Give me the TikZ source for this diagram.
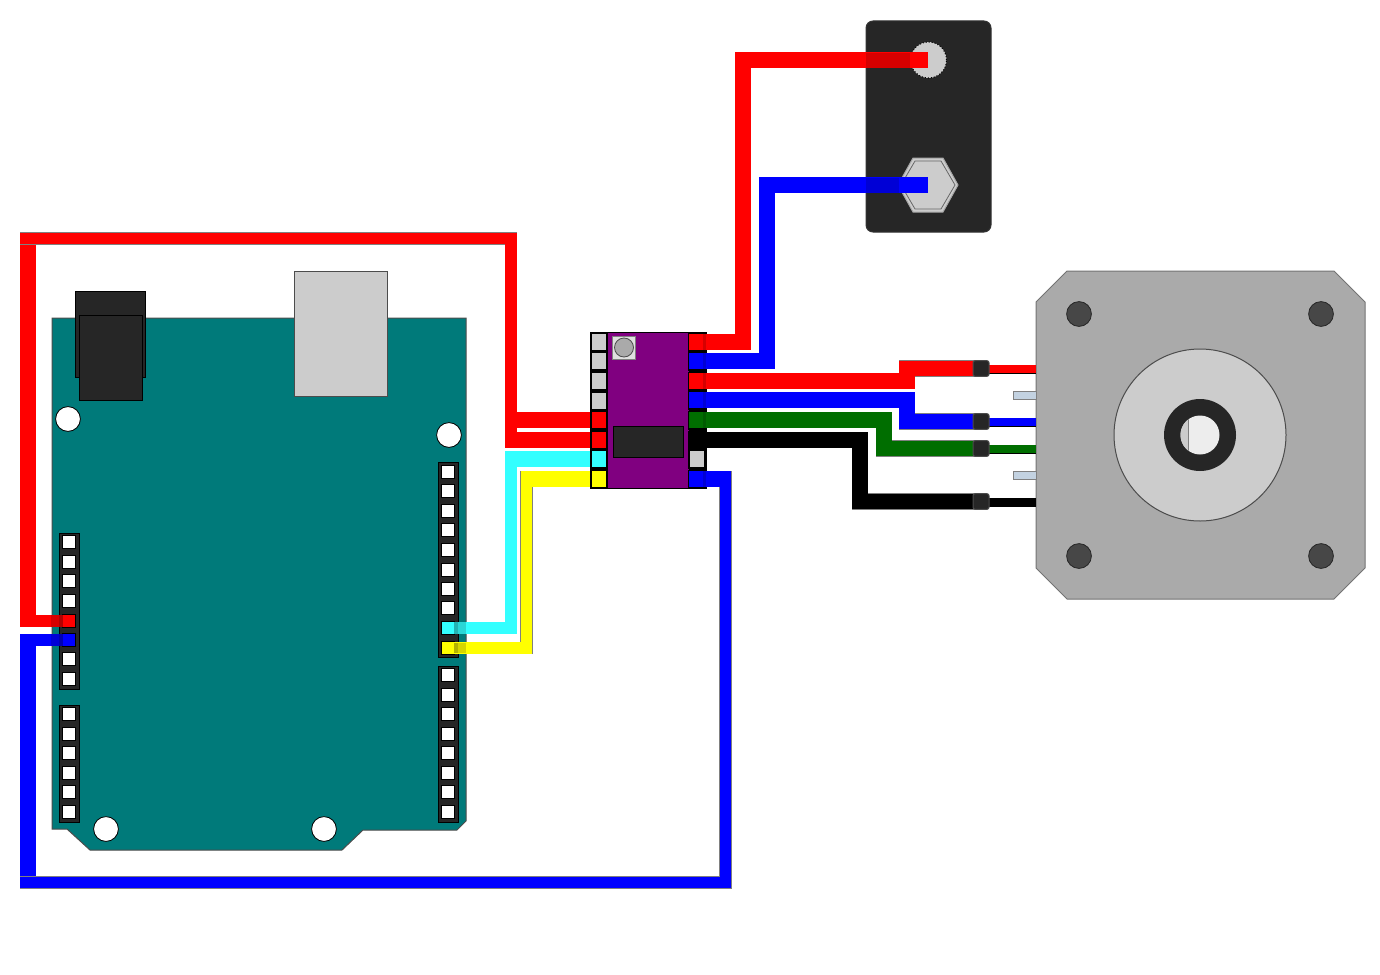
\documentclass[tikz,border=0pt]{standalone}
\usepackage{tikz}
\definecolor{boardteal}{RGB}{0,122,122}
\definecolor{darkpart}{RGB}{38,38,38}
\definecolor{lightpart}{RGB}{204,204,204}
\definecolor{motorgray}{RGB}{170,170,170}
\definecolor{drvpurple}{RGB}{128,0,128}
\definecolor{wirered}{RGB}{255,0,0}
\definecolor{wireblue}{RGB}{0,0,255}
\definecolor{wirecyan}{RGB}{51,255,255}
\definecolor{wireyellow}{RGB}{255,255,0}
\definecolor{wiregreen}{RGB}{0,110,0}
\definecolor{tabblue}{RGB}{195,210,225}
\tikzset{%
  part/.style     = {shape=rectangle, draw=black!70, line width=0.5pt,%
                     inner sep=0pt, outer sep=0pt},%
  strip/.style    = {part, fill=darkpart, draw=black, minimum width=10pt},%
  hole/.style     = {shape=rectangle, fill=white, draw=black, line width=0.4pt,%
                     inner sep=0pt, outer sep=0pt, minimum size=6.2pt},%
  pad/.style      = {shape=rectangle, fill=#1, draw=black, line width=0.9pt,%
                     inner sep=0pt, outer sep=0pt,%
                     minimum width=8.2pt, minimum height=8.6pt},%
  plug/.style     = {part, fill=darkpart, rounded corners=1pt,%
                     minimum width=8pt, minimum height=7.8pt},%
  tab/.style      = {part, fill=tabblue, draw=black!50,%
                     minimum width=11.5pt, minimum height=4pt},%
  boardhole/.style= {circle, fill=white, draw=black, line width=0.4pt,%
                     inner sep=0pt, outer sep=0pt, minimum size=12.4pt},%
  motorhole/.style= {circle, fill=black!72, draw=black!85, line width=0.4pt,%
                     inner sep=0pt, outer sep=0pt, minimum size=12.4pt},%
  wire/.style     = {draw=#1, line width=7.6pt, line join=miter,%
                     preaction={draw=black!50, line width=8.2pt}},%
  narrowwire/.style = {draw=#1, line width=5.8pt, line join=miter,%
                     preaction={draw=black!50, line width=6.4pt}},%
  thinwire/.style = {draw=#1, line width=4pt,%
                     preaction={draw=black, line width=4.5pt}},%
  dim/.style      = {fill=black, opacity=0.16}%
}

\begin{document}
\begin{tikzpicture}[x=0.5pt,y=-0.5pt]
	\useasboundingbox (0,0) rectangle (1380,974);
	% arduino
	\draw [part, fill=boardteal] (52,318) -- (466,318) -- (466,821) -- (457,830) -- (363,830)
		-- (342,850) -- (90,850) -- (67,829) -- (52,829) -- cycle;
	\node [part, fill=lightpart, minimum width=46.5pt, minimum height=62.5pt] (usb) at (340.5,333.5) {};
	\node [part, fill=darkpart, draw=black, minimum width=35pt, minimum height=43pt] (jackback) at (110,334) {};
	\node [part, fill=darkpart, draw=black, minimum width=31.5pt, minimum height=42.5pt] (jack) at (110.5,357.5) {};
	\node [boardhole] (hole1) at (68,419) {};
	\node [boardhole] (hole2) at (449,435) {};
	\node [boardhole] (hole3) at (106,829) {};
	\node [boardhole] (hole4) at (324,829) {};
	\node [strip, minimum height=78pt] (stripa) at (69,611) {};
	\node [strip, minimum height=58.5pt] (stripb) at (69,763.5) {};
	\node [strip, minimum height=97.5pt] (stripc) at (448,559.5) {};
	\node [strip, minimum height=78pt] (stripd) at (448,744) {};
	\foreach \n/\y in {1/542,2/562,3/581,4/601,5/621,6/640,7/659,8/679}
		\node [hole] (a\n) at (69,\y) {};
	\foreach \n/\y in {1/714,2/734,3/753,4/773,5/792,6/812}
		\node [hole] (b\n) at (69,\y) {};
	\foreach \n/\y in {1/472,2/491,3/511,4/530,5/550,6/570,7/589,8/608,9/628,10/648}
		\node [hole] (c\n) at (448,\y) {};
	\foreach \n/\y in {1/675,2/695,3/714,4/734,5/753,6/773,7/792,8/812}
		\node [hole] (d\n) at (448,\y) {};
	% driver
	\node [part, fill=black, draw=black, minimum width=58pt, minimum height=78pt] (driver) at (648,410.5) {};
	\node [part, fill=drvpurple, draw=drvpurple, minimum width=40pt, minimum height=77pt] (drvbody) at (648,410.5) {};
	\node [part, fill=black!12, draw=black!50, minimum width=11.5pt, minimum height=11.5pt] (trim) at (624,348) {};
	\node [circle, fill=motorgray, draw=black!70, line width=0.4pt, inner sep=0pt, minimum size=9.5pt] (trimscrew) at (624,347.5) {};
	\node [part, fill=darkpart, draw=black, minimum width=35pt, minimum height=15.5pt] (chip) at (648,441.5) {};
	\foreach \n/\y/\c in {1/342/lightpart,2/361/lightpart,3/381/lightpart,4/401/lightpart,
			5/420/wirered,6/440/wirered,7/459/wirecyan,8/479/wireyellow}
		\node [pad=\c] (l\n) at (599,\y) {};
	\foreach \n/\y/\c in {1/342/wirered,2/361/wireblue,3/381/wirered,4/400/wireblue,
			5/420/wiregreen,6/440/black,7/459/lightpart,8/479/wireblue}
		\node [pad=\c] (r\n) at (697,\y) {};
	% switch
	\node [part, fill=darkpart, draw=black!80, rounded corners=3.5pt, minimum width=62.5pt, minimum height=105.5pt] (switch) at (928.5,126.5) {};
	\node [circle, fill=lightpart, draw=black, densely dotted, line width=0.5pt, inner sep=0pt, minimum size=18pt] (post) at (928.5,60) {};
	\draw [fill=lightpart, draw=black!35, line width=0.5pt] (958,185) -- (943,212) -- (913,212) -- (898,185) -- (913,158) -- (943,158) -- cycle;
	\draw [draw=black!60, line width=0.4pt] (955,185) -- (941,209) -- (915,209) -- (901,185) -- (915,161) -- (941,161) -- cycle;
	\coordinate (postend) at (928,60);
	\coordinate (boltend) at (928,185);
	% motor
	\draw [part, fill=motorgray, draw=black!55] (1067,271) -- (1334,271) -- (1365,302) -- (1365,568)
		-- (1334,599) -- (1067,599) -- (1036,568) -- (1036,302) -- cycle;
	\node [motorhole] (m1) at (1079,314) {};
	\node [motorhole] (m2) at (1321,314) {};
	\node [motorhole] (m3) at (1079,556) {};
	\node [motorhole] (m4) at (1321,556) {};
	\node [circle, fill=lightpart, draw=black!70, line width=0.5pt, inner sep=0pt, minimum size=86pt] (flange) at (1200,435) {};
	\node [circle, fill=darkpart, inner sep=0pt, minimum size=36pt] (ring) at (1200,435) {};
	\node [circle, fill=black!7, inner sep=0pt, minimum size=19.5pt] (shaft) at (1200,435) {};
	\begin{scope}
		\clip (shaft) circle (9.75pt);
		\fill [lightpart] (1180,410) rectangle (1188,460);
		\draw [black!50, line width=0.5pt] (1188,410) -- (1188,460);
	\end{scope}
	\node [tab] (tab1) at (1024.5,395) {};
	\node [tab] (tab2) at (1024.5,475) {};
	\coordinate (mred) at (1036,369);
	\coordinate (mblue) at (1036,422);
	\coordinate (mgreen) at (1036,449);
	\coordinate (mblack) at (1036,502);
	% wires
	\coordinate (arda) at (75,621);
	\coordinate (ardb) at (75,640);
	\coordinate (ardc) at (442,628);
	\coordinate (ardd) at (442,648);
	\draw [wire=wirered] (28,244) -- (28,616);
	\draw [narrowwire=wirered] (511,447) -- (511,238.5) -- (20.4,238.5);
	\draw [narrowwire=wirered] (20.4,621) -- (arda);
	\draw [wire=wirered] (l5.center) -- (516,420);
	\draw [wire=wirered] (l6.center) -- (505,440);
	\draw [wire=wireblue] (28,645) -- (28,878);
	\draw [narrowwire=wireblue] (725.5,471) -- (725.5,882.5) -- (20.4,882.5);
	\draw [narrowwire=wireblue] (20.4,640) -- (ardb);
	\draw [wire=wireblue] (r8.center) -- (724,479);
	\draw [narrowwire=wirecyan] (511,451) -- (511,628) -- (ardc);
	\draw [wire=wirecyan] (l7.center) -- (505,459);
	\draw [narrowwire=wireyellow] (526.5,471) -- (526.5,648) -- (ardd);
	\draw [wire=wireyellow] (l8.center) -- (521,479);
	\draw [wire=wirered] (r1.center) -- (743,342) -- (743,60) -- (postend);
	\draw [wire=wireblue] (r2.center) -- (767,361) -- (767,185) -- (boltend);
	\draw [thinwire=wirered] (989,369) -- (mred);
	\draw [thinwire=wireblue] (989,422) -- (mblue);
	\draw [thinwire=wiregreen] (989,449) -- (mgreen);
	\draw [thinwire=black] (989,502) -- (mblack);
	\draw [wire=black] (r6.center) -- (860,440) -- (860,501.5) -- (975,501.5);
	\draw [wire=wiregreen] (r5.center) -- (884,420) -- (884,448.5) -- (975,448.5);
	\draw [wire=wireblue] (r4.center) -- (907,400) -- (907,421.5) -- (975,421.5);
	\draw [wire=wirered] (r3.center) -- (907,381) -- (907,368.5) -- (975,368.5);
	\node [plug] (plug1) at (981,368.5) {};
	\node [plug] (plug2) at (981,421.5) {};
	\node [plug] (plug3) at (981,448.5) {};
	\node [plug] (plug4) at (981,501.5) {};
	% pads and parts seen through the wires
	\foreach \n/\y/\c in {5/420/wirered,6/440/wirered,7/459/wirecyan,8/479/wireyellow}
		\node [pad=\c] (lt\n) at (599,\y) {};
	\foreach \n/\y/\c in {1/342/wirered,2/361/wireblue,3/381/wirered,4/400/wireblue,
			5/420/wiregreen,6/440/black,8/479/wireblue}
		\node [shape=rectangle, fill=\c, inner sep=0pt, minimum width=8pt, minimum height=7.6pt] (rt\n) at (697,\y) {};
	\foreach \y in {342,361,381,400,420,440,479}
		\fill [dim] (703,\y-8) rectangle (706,\y+7.5);
	\fill [dim] (866,53) rectangle (910,68);
	\fill [dim] (866,178) rectangle (899,193);
	\foreach \y in {615,634} {
		\fill [dim] (51,\y) rectangle (63,\y+12);
		\fill [dim] (59,\y) rectangle (63,\y+12);
	}
	\foreach \y/\h in {622/12,643/10} {
		\fill [dim] (454,\y) rectangle (466,\y+\h);
		\fill [dim] (454,\y) rectangle (458,\y+\h);
	}
\end{tikzpicture}
\end{document}
